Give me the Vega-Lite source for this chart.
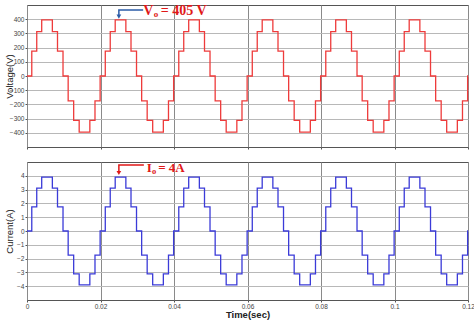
{
  "$schema": "https://vega.github.io/schema/vega-lite/v6.json",
  "padding": {"left": 3, "top": 3, "right": 0, "bottom": 0},
  "spacing": 15,
  "bounds": "flush",
  "config": {
    "view": {"stroke": "#555", "strokeWidth": 1},
    "axis": {"domain": false, "labelFont": "Liberation Sans", "labelFontSize": 6.5, "labelColor": "#444", "tickColor": "#555", "tickSize": 2, "titleFont": "Liberation Sans", "titleFontSize": 9.5, "titleFontWeight": "normal", "titleColor": "#222", "labelPadding": 1}
  },
  "datasets": {
    "wave": [
      {"t": 0, "v": 0, "i": 0},
      {"t": 0.0013, "v": 175, "i": 1.75}, {"t": 0.00265, "v": 312, "i": 3.1}, {"t": 0.004, "v": 395, "i": 3.9}, {"t": 0.0069, "v": 312, "i": 3.1}, {"t": 0.0083, "v": 175, "i": 1.75}, {"t": 0.0098, "v": 0, "i": 0},
      {"t": 0.0112, "v": -175, "i": -1.75}, {"t": 0.0127, "v": -312, "i": -3.1}, {"t": 0.0142, "v": -395, "i": -3.9}, {"t": 0.0171, "v": -312, "i": -3.1}, {"t": 0.0185, "v": -175, "i": -1.75}, {"t": 0.0199, "v": 0, "i": 0},
      {"t": 0.0213, "v": 175, "i": 1.75}, {"t": 0.02265, "v": 312, "i": 3.1}, {"t": 0.024, "v": 395, "i": 3.9}, {"t": 0.0269, "v": 312, "i": 3.1}, {"t": 0.0283, "v": 175, "i": 1.75}, {"t": 0.0298, "v": 0, "i": 0},
      {"t": 0.0312, "v": -175, "i": -1.75}, {"t": 0.0327, "v": -312, "i": -3.1}, {"t": 0.0342, "v": -395, "i": -3.9}, {"t": 0.0371, "v": -312, "i": -3.1}, {"t": 0.0385, "v": -175, "i": -1.75}, {"t": 0.0399, "v": 0, "i": 0},
      {"t": 0.0413, "v": 175, "i": 1.75}, {"t": 0.04265, "v": 312, "i": 3.1}, {"t": 0.044, "v": 395, "i": 3.9}, {"t": 0.0469, "v": 312, "i": 3.1}, {"t": 0.0483, "v": 175, "i": 1.75}, {"t": 0.0498, "v": 0, "i": 0},
      {"t": 0.0512, "v": -175, "i": -1.75}, {"t": 0.0527, "v": -312, "i": -3.1}, {"t": 0.0542, "v": -395, "i": -3.9}, {"t": 0.0571, "v": -312, "i": -3.1}, {"t": 0.0585, "v": -175, "i": -1.75}, {"t": 0.0599, "v": 0, "i": 0},
      {"t": 0.0613, "v": 175, "i": 1.75}, {"t": 0.06265, "v": 312, "i": 3.1}, {"t": 0.064, "v": 395, "i": 3.9}, {"t": 0.0669, "v": 312, "i": 3.1}, {"t": 0.0683, "v": 175, "i": 1.75}, {"t": 0.0698, "v": 0, "i": 0},
      {"t": 0.0712, "v": -175, "i": -1.75}, {"t": 0.0727, "v": -312, "i": -3.1}, {"t": 0.0742, "v": -395, "i": -3.9}, {"t": 0.0771, "v": -312, "i": -3.1}, {"t": 0.0785, "v": -175, "i": -1.75}, {"t": 0.0799, "v": 0, "i": 0},
      {"t": 0.0813, "v": 175, "i": 1.75}, {"t": 0.08265, "v": 312, "i": 3.1}, {"t": 0.084, "v": 395, "i": 3.9}, {"t": 0.0869, "v": 312, "i": 3.1}, {"t": 0.0883, "v": 175, "i": 1.75}, {"t": 0.0898, "v": 0, "i": 0},
      {"t": 0.0912, "v": -175, "i": -1.75}, {"t": 0.0927, "v": -312, "i": -3.1}, {"t": 0.0942, "v": -395, "i": -3.9}, {"t": 0.0971, "v": -312, "i": -3.1}, {"t": 0.0985, "v": -175, "i": -1.75}, {"t": 0.0999, "v": 0, "i": 0},
      {"t": 0.1013, "v": 175, "i": 1.75}, {"t": 0.10265, "v": 312, "i": 3.1}, {"t": 0.104, "v": 395, "i": 3.9}, {"t": 0.1069, "v": 312, "i": 3.1}, {"t": 0.1083, "v": 175, "i": 1.75}, {"t": 0.1098, "v": 0, "i": 0},
      {"t": 0.1112, "v": -175, "i": -1.75}, {"t": 0.1127, "v": -312, "i": -3.1}, {"t": 0.1142, "v": -395, "i": -3.9}, {"t": 0.1171, "v": -312, "i": -3.1}, {"t": 0.1185, "v": -175, "i": -1.75}, {"t": 0.1199, "v": 0, "i": 0},
      {"t": 0.12, "v": 0, "i": 0}
    ],
    "varrow": [{"k": 1, "t": 0.0316, "v": 465}, {"k": 2, "t": 0.0250, "v": 465}, {"k": 3, "t": 0.0250, "v": 425}],
    "vhead": [{"t": 0.0250, "v": 418}],
    "vtext": [{"t": 0.0316, "v": 432, "s": "V"}, {"t": 0.0364, "v": 432, "s": "= 405 V"}],
    "vsub": [{"t": 0.0345, "v": 414, "s": "o"}],
    "iarrow": [{"k": 1, "t": 0.0318, "i": 4.78}, {"k": 2, "t": 0.0250, "i": 4.78}, {"k": 3, "t": 0.0250, "i": 4.3}],
    "ihead": [{"t": 0.0250, "i": 4.2}],
    "itext": [{"t": 0.0326, "i": 4.3, "s": "I"}, {"t": 0.0357, "i": 4.3, "s": "= 4A"}],
    "isub": [{"t": 0.0340, "i": 4.14, "s": "o"}]
  },
  "vconcat": [
    {
      "width": 441,
      "height": 142,
      "encoding": {
        "x": {"field": "t", "type": "quantitative", "scale": {"domain": [0, 0.12], "nice": false}, "axis": {"values": [0, 0.02, 0.04, 0.06, 0.08, 0.1, 0.12], "labels": false, "title": null, "grid": true, "gridColor": "#8a8a8a"}},
        "y": {"field": "v", "type": "quantitative", "scale": {"domain": [-500, 500], "nice": false}, "axis": {"values": [-400, -300, -200, -100, 0, 100, 200, 300, 400], "title": "Voltage(V)", "grid": true, "gridColor": "#b8b8b8", "titleX": -13, "labelOverlap": false}}
      },
      "layer": [
        {
          "data": {"name": "wave"},
          "mark": {"type": "line", "interpolate": "step-after", "color": "#ee3b3b", "strokeWidth": 1.3}
        },
        {
          "data": {"name": "varrow"},
          "mark": {"type": "line", "color": "#2b5ca8", "strokeWidth": 1.5},
          "encoding": {"order": {"field": "k"}}
        },
        {
          "data": {"name": "vhead"},
          "mark": {"type": "point", "shape": "triangle-down", "filled": true, "color": "#2b5ca8", "size": 22, "opacity": 1}
        },
        {
          "data": {"name": "vtext"},
          "mark": {"type": "text", "align": "left", "baseline": "alphabetic", "font": "Liberation Serif", "fontWeight": "bold", "fontSize": 14, "color": "#e01818"},
          "encoding": {"text": {"field": "s"}}
        },
        {
          "data": {"name": "vsub"},
          "mark": {"type": "text", "align": "left", "baseline": "alphabetic", "font": "Liberation Serif", "fontWeight": "bold", "fontSize": 9, "color": "#e01818"},
          "encoding": {"text": {"field": "s"}}
        }
      ]
    },
    {
      "width": 441,
      "height": 138,
      "encoding": {
        "x": {"field": "t", "type": "quantitative", "scale": {"domain": [0, 0.12], "nice": false}, "axis": {"values": [0, 0.02, 0.04, 0.06, 0.08, 0.1, 0.12], "format": ".2~f", "title": "Time(sec)", "titleFontWeight": "bold", "titleFontSize": 9.5, "grid": true, "gridColor": "#8a8a8a", "labelFlush": false, "labelOverlap": false, "labelBound": false, "titlePadding": 0}},
        "y": {"field": "i", "type": "quantitative", "scale": {"domain": [-5, 5], "nice": false}, "axis": {"values": [-4, -3, -2, -1, 0, 1, 2, 3, 4], "title": "Current(A)", "grid": true, "gridColor": "#b8b8b8", "titleX": -13, "labelOverlap": false}}
      },
      "layer": [
        {
          "data": {"name": "wave"},
          "mark": {"type": "line", "interpolate": "step-after", "color": "#3b3bd8", "strokeWidth": 1.3}
        },
        {
          "data": {"name": "iarrow"},
          "mark": {"type": "line", "color": "#e01818", "strokeWidth": 1.5},
          "encoding": {"order": {"field": "k"}}
        },
        {
          "data": {"name": "ihead"},
          "mark": {"type": "point", "shape": "triangle-down", "filled": true, "color": "#e01818", "size": 22, "opacity": 1}
        },
        {
          "data": {"name": "itext"},
          "mark": {"type": "text", "align": "left", "baseline": "alphabetic", "font": "Liberation Serif", "fontWeight": "bold", "fontSize": 13, "color": "#e01818"},
          "encoding": {"text": {"field": "s"}}
        },
        {
          "data": {"name": "isub"},
          "mark": {"type": "text", "align": "left", "baseline": "alphabetic", "font": "Liberation Serif", "fontWeight": "bold", "fontSize": 8.5, "color": "#e01818"},
          "encoding": {"text": {"field": "s"}}
        }
      ]
    }
  ]
}
